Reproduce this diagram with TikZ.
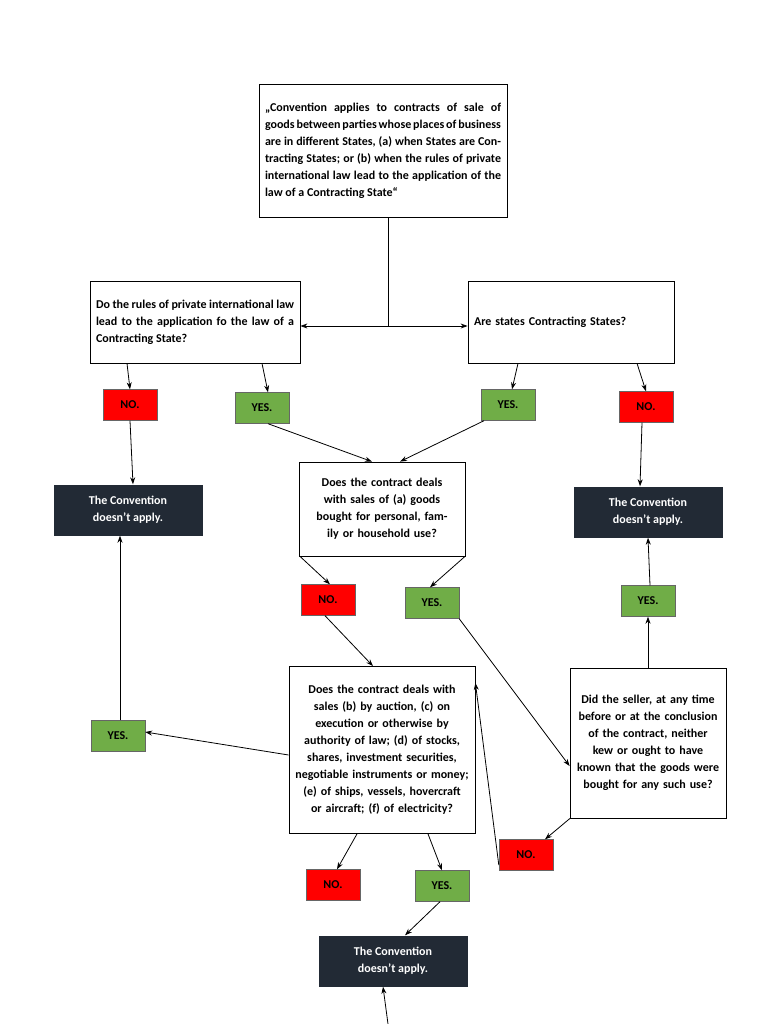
\documentclass[tikz,border=0pt]{standalone}
\usepackage{fontspec}
\setmainfont{Carlito}
\usetikzlibrary{arrows.meta}
\definecolor{nored}{HTML}{FF0000}
\definecolor{yesgreen}{HTML}{70AD47}
\definecolor{darkbox}{HTML}{222A35}
\begin{document}
\begin{tikzpicture}[x=1pt,y=-1pt,
  font=\bfseries\fontsize{12}{17}\selectfont,
  q/.style={draw, thick, fill=white, inner sep=6pt},
  no/.style={draw=black!60, fill=nored, minimum width=54pt, minimum height=31pt, inner sep=0pt},
  yes/.style={draw=black!60, fill=yesgreen, minimum width=54pt, minimum height=31pt, inner sep=0pt},
  dark/.style={fill=darkbox, text=white, minimum width=149pt, minimum height=51pt, align=center, inner sep=0pt},
  arr/.style={-{Stealth[length=7pt,width=5pt]}, thick}]
\useasboundingbox (0,0) rectangle (768,1024);

\node[q, text width=236pt, align=justify, minimum height=133pt] (top) at (383,151)
  {„Convention applies to contracts of sale of goods between parties whose places of business are in different States, (a) when States are Contracting States; or (b) when the rules of private international law lead to the application of the law of a Contracting State“};
\node[q, text width=198pt, align=justify, minimum width=210pt, minimum height=82pt] (lq) at (195,322)
  {Do the rules of private international law lead to the application fo the law of a Contracting State?};
\node[q, text width=194pt, minimum width=206pt, minimum height=82pt, align=left] (rq) at (571,322)
  {Are states Contracting States?};

\node[no] (no1) at (130,405) {NO.};
\node[yes] (yes1) at (262,408) {YES.};
\node[yes] (yes2) at (508,405) {YES.};
\node[no] (no2) at (646,407) {NO.};

\node[dark] (d1) at (128,510) {The Convention\\doesn't apply.};
\node[dark] (d2) at (648,512) {The Convention\\doesn't apply.};

\node[q, text width=160pt, align=center, minimum height=94pt, inner sep=3pt] (mq) at (382,509)
  {Does the contract deals with sales of (a) goods bought for personal, family or household use?};

\node[no] (no3) at (328,600) {NO.};
\node[yes] (yes3) at (432,603) {YES.};
\node[yes] (yes4) at (648,601) {YES.};

\node[q, text width=180pt, align=center, minimum height=167pt, inner sep=3pt] (bq) at (382,750)
  {Does the contract deals with sales (b) by auction, (c) on execution or otherwise by authority of law; (d) of stocks, shares, investment securities, negotiable instruments or money; (e) of ships, vessels, hovercraft or aircraft; (f) of electricity?};
\node[q, text width=150pt, align=center, minimum height=150pt, inner sep=3pt] (sq) at (648,743)
  {Did the seller, at any time before or at the conclusion of the contract, neither kew or ought to have known that the goods were bought for any such use?};

\node[yes] (yes5) at (118,736) {YES.};
\node[no] (no4) at (526,855) {NO.};
\node[no] (no5) at (333,885) {NO.};
\node[yes] (yes6) at (442,886) {YES.};
\node[dark] (d3) at (393,961) {The Convention\\doesn't apply.};
\coordinate (bot) at (388,1024);

% top split
\coordinate (split) at (388,326);
\draw[thick] ([xshift=5pt]top.south) -- (split);
\draw[arr] (split) -- (lq.east |- split);
\draw[arr] (split) -- (rq.west |- split);

\draw[arr] ([xshift=-68pt]lq.south) -- (no1.north);
\draw[arr] ([xshift=67pt]lq.south) -- ([xshift=6pt]yes1.north);
\draw[arr] ([xshift=-53pt]rq.south) -- ([xshift=4pt]yes2.north);
\draw[arr] ([xshift=66pt]rq.south) -- (no2.north);

\draw[arr] (no1.south) -- ([xshift=5pt]d1.north);
\draw[arr] ([xshift=-4pt]no2.south) -- ([xshift=-8pt]d2.north);
\draw[arr] ([xshift=6pt]yes1.south) -- ([xshift=-10pt]mq.north);
\draw[arr] ([xshift=-24pt]yes2.south) -- ([xshift=18pt]mq.north);

\draw[arr] ([xshift=-82pt]mq.south) -- ([xshift=2pt]no3.north);
\draw[arr] ([xshift=83pt]mq.south) -- ([xshift=-2pt]yes3.north);
\draw[arr] ([xshift=-3pt]no3.south) -- ([xshift=-9pt]bq.north);
\draw[arr] (yes3.south east) -- ([yshift=-23pt]sq.west);

\draw[arr] (sq.north) -- (yes4.south);
\draw[arr] ([xshift=2pt]yes4.north) -- (d2.south);
\draw[arr] ([xshift=-78pt]sq.south) -- ([xshift=19pt]no4.north);
\draw[arr] ([yshift=-10pt]no4.west) -- ([yshift=67pt]bq.east);

\draw[arr] ([yshift=-5pt]bq.west) -- ([yshift=4pt]yes5.east);
\draw[arr] ([xshift=2pt]yes5.north) -- ([xshift=-8pt]d1.south);
\draw[arr] ([xshift=-25pt]bq.south) -- ([xshift=4pt]no5.north);
\draw[arr] ([xshift=46pt]bq.south) -- (yes6.north);
\draw[arr] ([xshift=-2pt]yes6.south) -- ([xshift=12pt]d3.north);
\draw[arr] (bot) -- ([xshift=-10pt]d3.south);
\end{tikzpicture}
\end{document}
